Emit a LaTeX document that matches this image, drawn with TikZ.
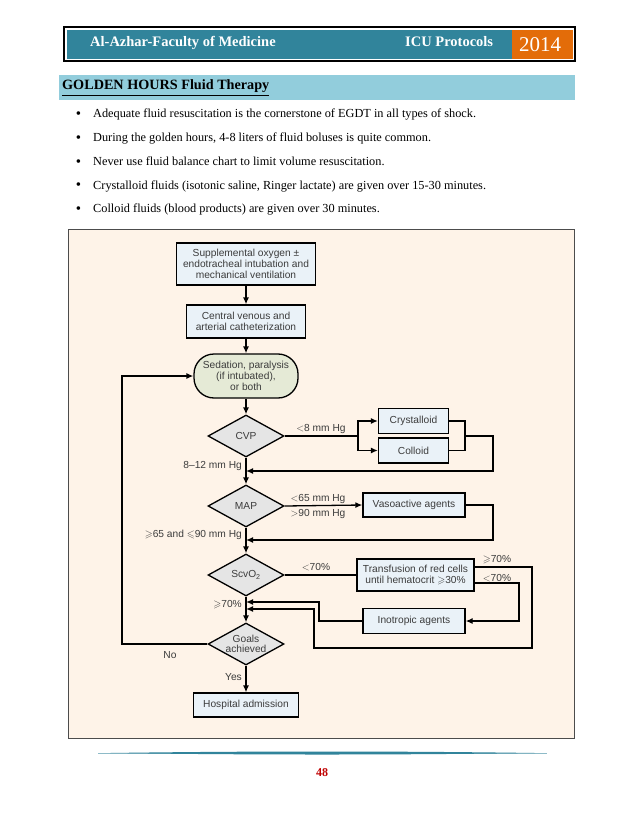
\documentclass[tikz,border=0pt]{standalone}
\usepackage{amssymb}
\usepackage{fontspec}
\setmainfont{Liberation Serif}
\setsansfont{Liberation Sans}
\usetikzlibrary{arrows.meta,shapes.geometric,calc}
\usepackage{xcolor}
\definecolor{headteal}{RGB}{49,132,155}
\definecolor{headorange}{RGB}{227,108,9}
\definecolor{bandblue}{RGB}{146,205,220}
\definecolor{chartbg}{RGB}{254,243,232}
\definecolor{boxblue}{RGB}{234,242,248}
\definecolor{sedgreen}{RGB}{229,234,214}
\definecolor{diagray}{RGB}{229,229,229}
\definecolor{labgray}{RGB}{60,60,60}
\definecolor{pagered}{RGB}{192,0,0}

\begin{document}
\begin{tikzpicture}[x=1pt,y=1pt,yscale=-1,
  flowbox/.style={draw,line width=1.3pt,fill=boxblue,text=labgray,font=\sffamily\fontsize{10.2}{11}\selectfont,align=center,inner sep=1pt},
  sedbox/.style={flowbox,fill=sedgreen,rounded corners=20pt},
  decision/.style={flowbox,diamond,aspect=1.8,fill=diagray,inner sep=0pt,minimum width=76pt,minimum height=42pt},
  flowlabel/.style={text=labgray,font=\sffamily\fontsize{10.2}{11}\selectfont,inner sep=1pt},
  flowline/.style={line width=1.3pt},
  flowarrow/.style={flowline,-{Latex[length=7pt,width=6pt]}},
  bullettext/.style={anchor=base west,inner sep=0pt,font=\fontsize{12.3}{14}\selectfont},
]
\useasboundingbox (0,0) rectangle (638,826);
\fill[white] (0,0) rectangle (638,826);

%Shape: Rectangle (page header)
\draw[line width=1.2pt] (64,27) rectangle (575,61);
\fill[headteal] (67,30) rectangle (512,59);
\fill[headorange] (512,30) rectangle (573,59);
% Text Node
\node (faculty) [anchor=base west,inner sep=0pt,text=white,font=\bfseries\fontsize{14.5}{16}\selectfont] at (90,47) {Al-Azhar-Faculty of Medicine};
% Text Node
\node (icu) [anchor=base west,inner sep=0pt,text=white,font=\bfseries\fontsize{14.5}{16}\selectfont] at (405,47) {ICU Protocols};
% Text Node
\node (year) [anchor=base,inner sep=0pt,text=white,font=\fontsize{21}{24}\selectfont] at (540,52) {2014};

%Shape: Rectangle (title band)
\fill[bandblue] (59,75) rectangle (575,100);
% Text Node
\node (title) [anchor=base west,inner sep=0pt,font=\bfseries\fontsize{14.2}{16}\selectfont] at (62,90) {\underline{GOLDEN HOURS Fluid Therapy}};

% bullet list
\foreach \y/\txt [count=\i] in {118/{Adequate fluid resuscitation is the cornerstone of EGDT in all types of shock.},
  142/{During the golden hours, 4-8 liters of fluid boluses is quite common.},
  166/{Never use fluid balance chart to limit volume resuscitation.},
  189.5/{Crystalloid fluids (isotonic saline, Ringer lactate) are given over 15-30 minutes.},
  213/{Colloid fluids (blood products) are given over 30 minutes.}}{
  \node (dot\i) [anchor=base,inner sep=0pt,font=\fontsize{15}{16}\selectfont] at (78.5,\y+0.5) {\textbullet};
  \node (item\i) [bullettext] at (93,\y) {\txt};
}

%Shape: Rectangle (chart frame)
\draw[draw=black!70,line width=0.9pt,fill=chartbg] (68,229) rectangle (574,738);

% Flow nodes
\node (oxygen) [flowbox,minimum width=139pt,minimum height=42pt] at (246,264) {Supplemental oxygen ±\\endotracheal intubation and\\mechanical ventilation};
\node (cath) [flowbox,minimum width=119pt,minimum height=33pt] at (246,321.5) {Central venous and\\arterial catheterization};
\node (sedation) [sedbox,minimum width=104pt,minimum height=44pt] at (246,376) {Sedation, paralysis\\(if intubated),\\or both};
\node (cvp) [decision] at (246,436) {CVP};
\node (crystal) [flowbox,minimum width=70pt,minimum height=25pt] at (413.5,421) {Crystalloid};
\node (colloid) [flowbox,minimum width=70pt,minimum height=25pt] at (413.5,450.5) {Colloid};
\node (map) [decision] at (246,506) {MAP};
\node (vaso) [flowbox,minimum width=102pt,minimum height=24pt] at (414,505) {Vasoactive agents};
\node (scvo) [decision] at (246,575) {ScvO\textsubscript{2}};
\node (transf) [flowbox,minimum width=117pt,minimum height=32pt] at (415.5,575) {Transfusion of red cells\\until hematocrit $\geqslant$30\%};
\node (inotrop) [flowbox,minimum width=102pt,minimum height=25pt] at (414,621) {Inotropic agents};
\node (goals) [decision,font=\sffamily\fontsize{10.2}{10.5}\selectfont] at (246,644) {Goals\\achieved};
\node (hospital) [flowbox,minimum width=105pt,minimum height=24pt] at (246,705) {Hospital admission};

% Main line
\draw[flowarrow] (oxygen) -- (cath);
\draw[flowarrow] (cath) -- (sedation);
\draw[flowarrow] (sedation) -- (cvp);
\draw[flowarrow] (cvp) -- (map);
\draw[flowarrow] (map) -- (scvo);
\draw[flowarrow] (scvo) -- (goals);
\draw[flowarrow] (goals) -- (hospital);

% CVP branch
\coordinate (cvpsplit) at (358,436);
\coordinate (cvpjoin) at (465,436);
\coordinate (cvpback) at (493,471);
\draw[flowline] (cvp.east) -- (cvpsplit);
\draw[flowarrow] (cvpsplit) |- (crystal.west);
\draw[flowarrow] (cvpsplit) |- (colloid.west);
\draw[flowline] (crystal.east) -| (cvpjoin) |- (colloid.east);
\draw[flowarrow] (cvpjoin) -| (cvpback) -- (cvpback -| cvp);
\node (cvplow) [flowlabel] at (321,429) {$<$8 mm Hg};
\node (cvpnormal) [flowlabel,anchor=east] at (243,466) {8–12 mm Hg};

% MAP branch
\coordinate (mapback) at (493,540);
\draw[flowarrow] (map.east) -- (vaso.west);
\draw[flowarrow] (vaso.east) -| (mapback) -- (mapback -| map);
\node (maplow) [flowlabel] at (318,499) {$<$65 mm Hg};
\node (maphigh) [flowlabel] at (318,513.5) {$>$90 mm Hg};
\node (mapnormal) [flowlabel,anchor=east] at (243,535) {$\geqslant$65 and $\leqslant$90 mm Hg};

% ScvO2 branch
\coordinate (goodcorner) at (532,648);
\coordinate (goodturn) at (314,609);
\coordinate (lowcorner) at (519,621);
\coordinate (inoturn) at (319,602);
\draw[flowline] (scvo.east) -- (transf.west);
\draw[flowarrow] ($(transf.east)+(0,-8)$) -| (goodcorner) -| (goodturn) -- (goodturn -| scvo);
\draw[flowarrow] ($(transf.east)+(0,8)$) -| (lowcorner) -- (inotrop.east);
\draw[flowarrow] (inotrop.west) -| (inoturn) -- (inoturn -| scvo);
\node (scvolow) [flowlabel] at (316,567) {$<$70\%};
\node (transfgood) [flowlabel] at (497,560) {$\geqslant$70\%};
\node (transflow) [flowlabel] at (497,578) {$<$70\%};
\node (scvogood) [flowlabel,anchor=east] at (243,605) {$\geqslant$70\%};

% Goals branch
\coordinate (nocorner) at (122,644);
\draw[flowarrow] (goals.west) -- (nocorner) |- (sedation.west);
\node (nolabel) [flowlabel] at (170,655) {No};
\node (yeslabel) [flowlabel,anchor=east] at (243,677) {Yes};

% footer
\fill[headteal!55] (98,752.6) rectangle (547,753.4);
\fill[headteal] (110,753) .. controls (250,751) and (394,751) .. (535,753) .. controls (394,755) and (250,755) .. (110,753) -- cycle;
\node (pagenum) [text=pagered,font=\bfseries\fontsize{12}{14}\selectfont] at (322,773) {48};

\end{tikzpicture}
\end{document}
